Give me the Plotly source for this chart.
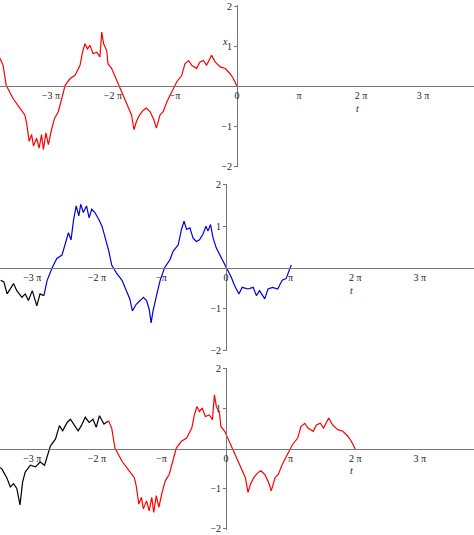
import numpy as np
import plotly.graph_objects as go

PI = np.pi

# t in units of pi, x values
red_t = [-3.82, -3.77, -3.72, -3.61, -3.5, -3.42, -3.39, -3.35, -3.31, -3.28, -3.23, -3.19, -3.15, -3.12,
         -3.08, -3.04, -2.99, -2.94, -2.88, -2.83, -2.77, -2.69, -2.61, -2.53, -2.49, -2.45, -2.41, -2.37,
         -2.32, -2.26, -2.21, -2.18, -2.15, -2.1, -2.08, -2.02, -1.94, -1.86, -1.78, -1.7, -1.66, -1.62,
         -1.57, -1.51, -1.46, -1.4, -1.34, -1.3, -1.24, -1.19, -1.13, -1.05, -0.97, -0.89, -0.84, -0.78,
         -0.73, -0.65, -0.6, -0.54, -0.49, -0.41, -0.35, -0.27, -0.19, -0.11, -0.06, 0.0]
red_x = [0.7, 0.52, 0.02, -0.31, -0.55, -0.72, -0.93, -1.38, -1.21, -1.5, -1.3, -1.55, -1.21, -1.59,
         -1.17, -1.46, -1.09, -0.8, -0.64, -0.31, 0.02, 0.19, 0.27, 0.52, 0.85, 1.06, 0.93, 1.02,
         0.81, 0.85, 0.73, 1.35, 1.06, 0.89, 0.56, 0.44, 0.15, -0.1, -0.39, -0.72, -1.09, -0.88,
         -0.72, -0.6, -0.55, -0.64, -0.84, -1.05, -0.72, -0.64, -0.39, -0.14, 0.11, 0.27, 0.56, 0.64,
         0.52, 0.44, 0.6, 0.64, 0.52, 0.77, 0.6, 0.48, 0.44, 0.31, 0.19, 0.0]

blue_t = [-2.82, -2.77, -2.69, -2.62, -2.54, -2.49, -2.44, -2.4, -2.36, -2.32, -2.28, -2.25, -2.21, -2.16,
          -2.12, -2.08, -2.03, -1.97, -1.92, -1.87, -1.82, -1.77, -1.69, -1.61, -1.54, -1.49, -1.45, -1.39,
          -1.33, -1.28, -1.23, -1.19, -1.16, -1.13, -1.07, -1.02, -0.95, -0.87, -0.82, -0.74, -0.69, -0.65,
          -0.61, -0.56, -0.51, -0.46, -0.41, -0.36, -0.31, -0.28, -0.24, -0.2, -0.15, -0.07, 0.0, 0.08,
          0.13, 0.2, 0.25, 0.34, 0.42, 0.47, 0.52, 0.6, 0.65, 0.72, 0.8, 0.87, 0.93, 1.01]
blue_x = [-0.68, -0.31, 0.0, 0.22, 0.3, 0.55, 0.84, 0.67, 1.16, 1.49, 1.25, 1.53, 1.33, 1.49,
          1.2, 1.41, 1.33, 1.16, 1.0, 0.71, 0.43, 0.06, -0.15, -0.31, -0.56, -0.76, -1.05, -0.89,
          -0.8, -0.72, -0.8, -1.01, -1.34, -1.05, -0.64, -0.31, 0.0, 0.18, 0.39, 0.55, 0.92, 1.12,
          0.92, 0.96, 0.71, 0.63, 0.67, 0.8, 1.0, 0.88, 1.04, 0.71, 0.47, 0.22, 0.0, -0.23,
          -0.43, -0.64, -0.48, -0.52, -0.48, -0.68, -0.56, -0.76, -0.52, -0.48, -0.52, -0.31, -0.27, 0.06]

black2_t = [-3.49, -3.44, -3.39, -3.34, -3.29, -3.24, -3.16, -3.11, -3.06, -3.0, -2.93, -2.88, -2.82]
black2_x = [-0.31, -0.35, -0.64, -0.52, -0.39, -0.56, -0.72, -0.64, -0.8, -0.56, -0.93, -0.64, -0.68]

black3_t = [-3.52, -3.47, -3.39, -3.34, -3.29, -3.24, -3.19, -3.15, -3.11, -3.03, -2.95, -2.88, -2.81,
            -2.77, -2.72, -2.64, -2.58, -2.53, -2.46, -2.41, -2.36, -2.29, -2.24, -2.18, -2.12, -2.06,
            -2.01, -1.96, -1.89, -1.82]
black3_x = [-0.45, -0.5, -0.74, -0.95, -0.87, -0.99, -1.4, -0.83, -0.58, -0.41, -0.45, -0.33, -0.41,
            -0.17, 0.07, 0.25, 0.58, 0.45, 0.66, 0.74, 0.62, 0.45, 0.58, 0.79, 0.66, 0.74,
            0.54, 0.83, 0.62, 0.7]

tick_vals = [-3, -2, -1, 0, 1, 2, 3]
tick_text = ["\u22123 \u03c0", "\u22122 \u03c0", "\u2212\u03c0", "0", "\u03c0", "2 \u03c0", "3 \u03c0"]
y_vals = [-2, -1, 1, 2]
y_text = ["\u22122", "\u22121", "1", "2"]

RED = "#ff0000"
BLUE = "#0000dd"
BLACK = "#000000"

panels = [
    dict(dom=[0.688, 0.990], xr=[-3.82, 3.82],
         curves=[(red_t, red_x, RED, 0.0)]),
    dict(dom=[0.344, 0.656], xr=[-3.5, 3.84],
         curves=[(black2_t, black2_x, BLACK, 0.0), (blue_t, blue_x, BLUE, 0.0)]),
    dict(dom=[0.010, 0.312], xr=[-3.5, 3.84],
         curves=[(black3_t, black3_x, BLACK, 0.0), (red_t, red_x, RED, 2.0)]),
]

font = dict(family="Liberation Serif, Times New Roman, serif", size=10, color="#222")
fig = go.Figure()
layout = {}
for i, p in enumerate(panels, start=1):
    xa = "x" if i == 1 else f"x{i}"
    ya = "y" if i == 1 else f"y{i}"
    for t, v, col, shift in p["curves"]:
        fig.add_trace(go.Scatter(x=[(ti + shift) * PI for ti in t], y=v, mode="lines",
                                 line=dict(color=col, width=1.2), showlegend=False,
                                 xaxis=xa, yaxis=ya))
    xr = [p["xr"][0] * PI, p["xr"][1] * PI]
    ypos = -xr[0] / (xr[1] - xr[0])
    mid = (p["dom"][0] + p["dom"][1]) / 2
    layout[f"xaxis{'' if i == 1 else i}"] = dict(
        domain=[0, 1], range=xr, anchor="free", position=mid, automargin=False,
        tickvals=[v * PI for v in tick_vals], ticktext=tick_text,
        showline=True, linecolor="#777", linewidth=1, showgrid=False, zeroline=False,
        ticks="", tickfont=font)
    layout[f"yaxis{'' if i == 1 else i}"] = dict(
        domain=p["dom"], range=[-2.02, 2.02], anchor="free", position=ypos, automargin=False,
        tickvals=y_vals, ticktext=y_text,
        showline=True, linecolor="#777", linewidth=1, showgrid=False, zeroline=False,
        ticks="outside", ticklen=3, tickcolor="#777", tickfont=font)

fig.update_layout(**layout)
fig.add_annotation(x=-0.2 * PI, y=1.12, xref="x", yref="y", text="<i>x</i>", showarrow=False,
                   font=font)
for xr_, yr_ in [("x", "y"), ("x2", "y2"), ("x3", "y3")]:
    fig.add_annotation(x=1.95 * PI, y=-0.55, xref=xr_, yref=yr_, text="<i>t</i>",
                       showarrow=False, font=font)
fig.update_layout(width=474, height=535, margin=dict(l=0, r=0, t=0, b=0),
                  paper_bgcolor="white", plot_bgcolor="white")
fig.write_html("out.html", config={"displayModeBar": False},
               post_script="document.body.style.margin='0';")
